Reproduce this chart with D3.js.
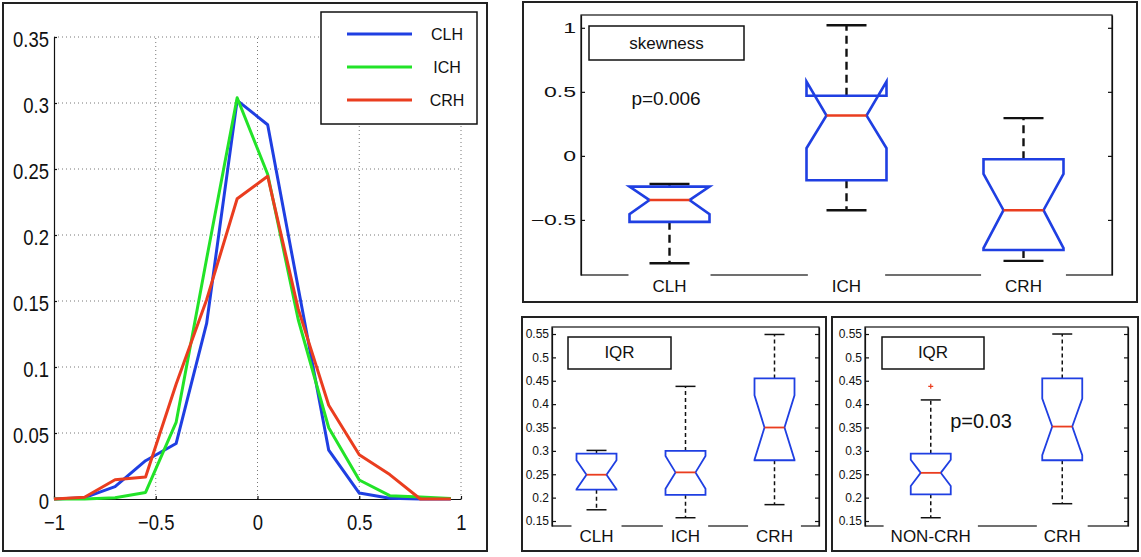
<!DOCTYPE html>
<html><head><meta charset="utf-8">
<script src="https://cdn.jsdelivr.net/npm/d3@7"></script>
<style>body{margin:0;background:#fff}svg{display:block}text{font-family:"Liberation Sans",Arial,Helvetica,sans-serif;fill:#111}</style>
</head><body><svg id="c" width="1141" height="557"></svg>
<script>
// ---------- data ----------
const binCenters = [-1, -0.85, -0.7, -0.55, -0.4, -0.25, -0.1, 0.05, 0.2, 0.35, 0.5, 0.65, 0.8, 0.95];
const clhDensity = [0, 0.001, 0.0094, 0.029, 0.042, 0.133, 0.302, 0.2835, 0.16, 0.037, 0.0045, 0.0005, 0, 0];
const ichDensity = [0, 0, 0.001, 0.005, 0.058, 0.182, 0.304, 0.246, 0.136, 0.054, 0.0144, 0.0025, 0.0015, 0.0004];
const crhDensity = [0, 0.0013, 0.0146, 0.0167, 0.087, 0.151, 0.2275, 0.2445, 0.144, 0.071, 0.0335, 0.0185, 0, 0];
const seriesNames = ["CLH", "ICH", "CRH"];
const lineXTicks = [-1, -0.5, 0, 0.5, 1];
const lineYTicks = [0, 0.05, 0.1, 0.15, 0.2, 0.25, 0.3, 0.35];
const lineYLabels = ["0", "0.05", "0.1", "0.15", "0.2", "0.25", "0.3", "0.35"];

const skewCategories = ["CLH", "ICH", "CRH"];
const skewLower = [-0.838, -0.424, -0.82];
const skewQ1 = [-0.515, -0.19, -0.735];
const skewNotchLow = [-0.455, 0.06, -0.72];
const skewMedian = [-0.345, 0.315, -0.424];
const skewNotchHigh = [-0.24, 0.58, -0.14];
const skewQ3 = [-0.24, 0.47, -0.026];
const skewUpper = [-0.22, 1.02, 0.295];
const skewTicks = [-0.5, 0, 0.5, 1];
const skewTickLabels = ["\u22120.5", "0", "0.5", "1"];

const iqr3Categories = ["CLH", "ICH", "CRH"];
const iqr3Lower = [0.174, 0.157, 0.185];
const iqr3Q1 = [0.217, 0.206, 0.280];
const iqr3NotchLow = [0.218, 0.219, 0.281];
const iqr3Median = [0.249, 0.254, 0.350];
const iqr3NotchHigh = [0.280, 0.289, 0.419];
const iqr3Q3 = [0.294, 0.300, 0.455];
const iqr3Upper = [0.301, 0.438, 0.549];

const iqr2Categories = ["NON-CRH", "CRH"];
const iqr2Lower = [0.157, 0.187];
const iqr2Q1 = [0.207, 0.280];
const iqr2NotchLow = [0.225, 0.291];
const iqr2Median = [0.253, 0.352];
const iqr2NotchHigh = [0.281, 0.412];
const iqr2Q3 = [0.294, 0.455];
const iqr2Upper = [0.409, 0.550];
const iqr2OutlierGroup = ["NON-CRH"];
const iqr2OutlierValue = [0.438];

const iqrTicks = [0.15, 0.2, 0.25, 0.3, 0.35, 0.4, 0.45, 0.5, 0.55];
const iqrTickLabels = ["0.15", "0.2", "0.25", "0.3", "0.35", "0.4", "0.45", "0.5", "0.55"];

// ---------- styles ----------
const BLUE = "#1f3fe2", GREEN = "#22e328", RED = "#ea3d1f";
const seriesColors = [BLUE, GREEN, RED];
const svg = d3.select("#c");

function squeeze(sel, sx) {
  sel.each(function () {
    const t = d3.select(this);
    const xx = +t.attr("x") || 0, yy = +t.attr("y") || 0;
    t.attr("x", 0).attr("y", 0).attr("transform", `translate(${xx},${yy}) scale(${sx},1)`);
  });
}

// ---------- left: density lines ----------
svg.append("rect").attr("x", 3).attr("y", 3).attr("width", 484).attr("height", 548)
  .attr("fill", "none").attr("stroke", "#222").attr("stroke-width", 2);

const x = d3.scaleLinear().domain([-1, 1]).range([54, 461]);
const y = d3.scaleLinear().domain([0, 0.35]).range([499, 37]);

const grid = svg.append("g").attr("stroke", "#777").attr("stroke-width", 1).attr("stroke-dasharray", "1,3");
lineXTicks.filter(d => d > -1).forEach(d => grid.append("line").attr("x1", x(d)).attr("x2", x(d)).attr("y1", y(0)).attr("y2", y(0.35)));
lineYTicks.filter(d => d > 0).forEach(d => grid.append("line").attr("x1", x(-1)).attr("x2", x(1)).attr("y1", y(d)).attr("y2", y(d)));

const ax = svg.append("g").attr("transform", `translate(0,${y(0)})`)
  .call(d3.axisBottom(x).tickValues(lineXTicks).tickSize(-3).tickSizeOuter(0).tickPadding(15)
    .tickFormat(d => String(d).replace("-", "\u2212")));
const ay = svg.append("g").attr("transform", `translate(${x(-1)},0)`)
  .call(d3.axisLeft(y).tickValues(lineYTicks).tickSize(-3).tickSizeOuter(0).tickPadding(5)
    .tickFormat((d, i) => lineYLabels[i]));
[ax, ay].forEach(g => { g.selectAll("path,line").attr("stroke", "#111").attr("stroke-width", 1.2); g.selectAll("text").attr("font-size", 22).attr("fill", "#111").attr("font-family", null); });
ay.selectAll("text").attr("dy", "0.45em");
squeeze(ax.selectAll("text"), 0.84);
squeeze(ay.selectAll("text"), 0.84);

const line = d3.line().x((d, i) => x(binCenters[i])).y(d => y(d));
[clhDensity, ichDensity, crhDensity].forEach((s, k) => {
  svg.append("path").datum(s).attr("d", line).attr("fill", "none")
    .attr("stroke", seriesColors[k]).attr("stroke-width", 3).attr("stroke-linejoin", "round");
});

// legend
const lg = svg.append("g");
lg.append("rect").attr("x", 321).attr("y", 12).attr("width", 156).attr("height", 112)
  .attr("fill", "#fff").attr("stroke", "#111").attr("stroke-width", 1.5);
seriesNames.forEach((n, i) => {
  const yy = 34 + i * 33;
  lg.append("line").attr("x1", 347).attr("x2", 412).attr("y1", yy).attr("y2", yy)
    .attr("stroke", seriesColors[i]).attr("stroke-width", 3);
  lg.append("text").attr("x", 447).attr("y", yy + 6).attr("text-anchor", "middle")
    .attr("font-size", 16).text(n);
});

// ---------- box plot panels ----------
function boxPanel(o) {
  const g = svg.append("g");
  g.append("rect").attr("x", o.frame[0]).attr("y", o.frame[1]).attr("width", o.frame[2] - o.frame[0])
    .attr("height", o.frame[3] - o.frame[1]).attr("fill", "none").attr("stroke", "#222").attr("stroke-width", 2);
  const [l, t, r, b] = o.plot;
  const xs = d3.scaleBand().domain(o.cats).range([l, r]).padding(0);
  const cx = c => xs(c) + xs.bandwidth() / 2;
  const ys = d3.scaleLinear().domain(o.domain).range([b, t]);

  g.append("rect").attr("x", l).attr("y", t).attr("width", r - l).attr("height", b - t)
    .attr("fill", "none").attr("stroke", "#111").attr("stroke-width", 1.2);
  const yl = g.append("g").attr("transform", `translate(${l},0)`)
    .call(d3.axisLeft(ys).tickValues(o.ticks).tickSize(-4).tickSizeOuter(0).tickPadding(o.tickPad)
      .tickFormat((d, i) => o.tickLabels[i]));
  const yr = g.append("g").attr("transform", `translate(${r},0)`)
    .call(d3.axisRight(ys).tickValues(o.ticks).tickSize(-4).tickSizeOuter(0).tickFormat(""));
  [yl, yr].forEach(a => a.selectAll("path,line").attr("stroke", "#111").attr("stroke-width", 1.2));
  yl.selectAll("text").attr("font-size", o.tickFont).attr("fill", "#111").attr("font-family", null);
  if (o.tickSx !== 1) squeeze(yl.selectAll("text"), o.tickSx);

  // category labels with white gap on the bottom line
  const lab = g.append("g");
  o.cats.forEach(c => {
    const cg = lab.append("g");
    const gap = cg.append("rect").attr("fill", "#fff");
    const tx = cg.append("text").attr("x", cx(c)).attr("y", o.catBase).attr("text-anchor", "middle")
      .attr("font-size", o.catFont).text(c);
    const w = tx.node().getComputedTextLength() + 2 * o.gapPad;
    gap.attr("x", cx(c) - w / 2).attr("y", b - 2).attr("width", w).attr("height", 4);
  });

  const hw = o.halfW, iw = o.halfW / 2;
  o.cats.forEach((c, i) => {
    const X = cx(c);
    [[o.q3[i], o.upper[i]], [o.q1[i], o.lower[i]]].forEach(([a, e]) => {
      g.append("line").attr("x1", X).attr("x2", X).attr("y1", ys(a)).attr("y2", ys(e))
        .attr("stroke", "#111").attr("stroke-width", o.wW).attr("stroke-dasharray", o.dash);
      g.append("line").attr("x1", X - iw).attr("x2", X + iw).attr("y1", ys(e)).attr("y2", ys(e))
        .attr("stroke", "#111").attr("stroke-width", o.wW);
    });
    const pts = [
      [X - hw, ys(o.q1[i])], [X - hw, ys(o.nlo[i])], [X - iw, ys(o.med[i])], [X - hw, ys(o.nhi[i])],
      [X - hw, ys(o.q3[i])], [X + hw, ys(o.q3[i])], [X + hw, ys(o.nhi[i])], [X + iw, ys(o.med[i])],
      [X + hw, ys(o.nlo[i])], [X + hw, ys(o.q1[i])]
    ];
    g.append("path").attr("d", "M" + pts.map(p => p.join(",")).join("L") + "Z")
      .attr("fill", "none").attr("stroke", BLUE).attr("stroke-width", o.bW).attr("stroke-linejoin", "miter");
    g.append("line").attr("x1", X - iw).attr("x2", X + iw).attr("y1", ys(o.med[i])).attr("y2", ys(o.med[i]))
      .attr("stroke", RED).attr("stroke-width", o.bW);
  });
  if (o.outGroup) {
    o.outGroup.forEach((c, i) => {
      const X = cx(c), Y = ys(o.outVal[i]);
      g.append("path").attr("d", `M${X - 2.5},${Y}H${X + 2.5}M${X},${Y - 2.5}V${Y + 2.5}`)
        .attr("stroke", RED).attr("stroke-width", 1.2);
    });
  }
  const L = o.label;
  g.append("rect").attr("x", L.box[0]).attr("y", L.box[1]).attr("width", L.box[2] - L.box[0]).attr("height", L.box[3] - L.box[1])
    .attr("fill", "#fff").attr("stroke", "#111").attr("stroke-width", 1.5);
  g.append("text").attr("x", (L.box[0] + L.box[2]) / 2).attr("y", L.base).attr("text-anchor", "middle")
    .attr("font-size", L.font).text(L.text);
  if (o.p) g.append("text").attr("x", o.p.x).attr("y", o.p.y).attr("text-anchor", "middle")
    .attr("font-size", o.p.font).text(o.p.text);
}

boxPanel({
  frame: [523, 2, 1137, 302], plot: [581, 15, 1112, 275],
  cats: skewCategories, domain: [-0.93, 1.10], ticks: skewTicks, tickLabels: skewTickLabels,
  tickFont: 14, tickSx: 1.65, tickPad: 5, catFont: 17, catBase: 292, gapPad: 24,
  lower: skewLower, q1: skewQ1, nlo: skewNotchLow, med: skewMedian, nhi: skewNotchHigh, q3: skewQ3, upper: skewUpper,
  halfW: 40, bW: 2.6, wW: 2.4, dash: "8,5",
  label: { box: [589, 26, 744, 60], base: 49, font: 17, text: "skewness" },
  p: { x: 666, y: 105, font: 19, text: "p=0.006" }
});

boxPanel({
  frame: [522, 317, 826, 551], plot: [552, 327, 819, 526],
  cats: iqr3Categories, domain: [0.1393, 0.565], ticks: iqrTicks, tickLabels: iqrTickLabels,
  tickFont: 12, tickSx: 1, tickPad: 3, catFont: 17, catBase: 542, gapPad: 8,
  lower: iqr3Lower, q1: iqr3Q1, nlo: iqr3NotchLow, med: iqr3Median, nhi: iqr3NotchHigh, q3: iqr3Q3, upper: iqr3Upper,
  halfW: 20, bW: 1.8, wW: 1.5, dash: "4,3",
  label: { box: [568, 337, 671, 369], base: 358, font: 17, text: "IQR" }
});

boxPanel({
  frame: [832, 317, 1138, 551], plot: [865, 327, 1128, 526],
  cats: iqr2Categories, domain: [0.1393, 0.565], ticks: iqrTicks, tickLabels: iqrTickLabels,
  tickFont: 12, tickSx: 1, tickPad: 3, catFont: 17, catBase: 542, gapPad: 7,
  lower: iqr2Lower, q1: iqr2Q1, nlo: iqr2NotchLow, med: iqr2Median, nhi: iqr2NotchHigh, q3: iqr2Q3, upper: iqr2Upper,
  outGroup: iqr2OutlierGroup, outVal: iqr2OutlierValue,
  halfW: 20, bW: 1.8, wW: 1.5, dash: "4,3",
  label: { box: [882, 337, 984, 369], base: 358, font: 17, text: "IQR" },
  p: { x: 981, y: 428, font: 20, text: "p=0.03" }
});
</script></body></html>
